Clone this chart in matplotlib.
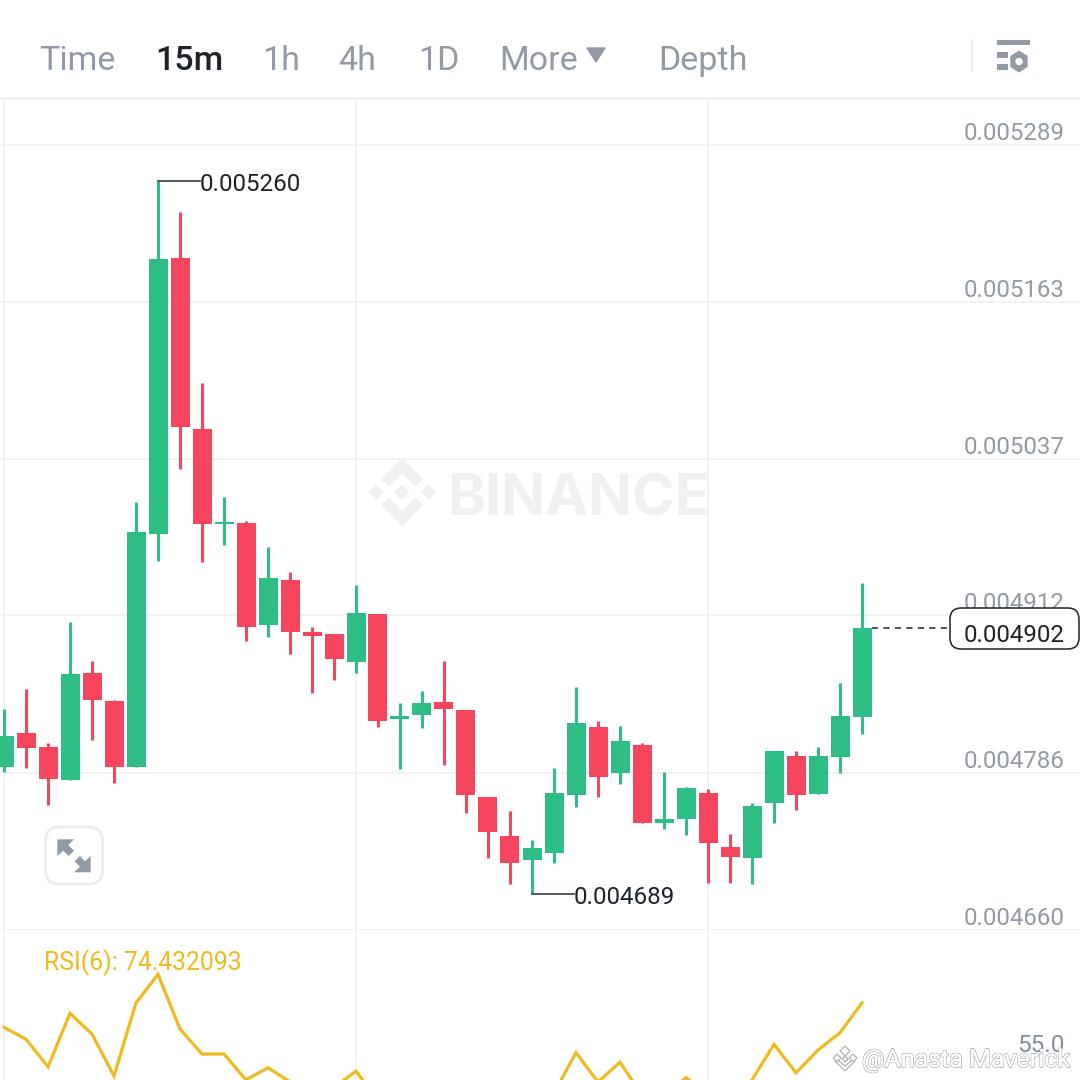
import matplotlib
matplotlib.use("Agg")
import matplotlib.pyplot as plt
from matplotlib.patches import FancyBboxPatch, Polygon, Circle, Rectangle
from matplotlib import patheffects
import numpy as np

plt.rcParams['font.family'] = ['Roboto', 'DejaVu Sans']

GREEN = "#2EBD85"
RED = "#F6465D"
GRID = "#EFF1F3"
GREY = "#929AA5"
DARK = "#1E2329"
YELLOW = "#EDBB1F"

# 15m candles, left to right
opens = [0.0047908, 0.0048179, 0.0048066, 0.0047799, 0.0048657, 0.0048437, 0.0047908, 0.0049771,
         0.0051982, 0.0050612, 0.0049851, 0.0049861, 0.0049041, 0.0049408, 0.0048988, 0.0048969,
         0.0048750, 0.0049130, 0.0048291, 0.0048320, 0.0048427, 0.0048365, 0.0047666, 0.0047356,
         0.0047158, 0.0047219, 0.0047679, 0.0048227, 0.0047860, 0.0048085, 0.0047457, 0.0047489,
         0.0047695, 0.0047265, 0.0047179, 0.0047620, 0.0047997, 0.0047690, 0.0047989, 0.0048309]
closes = [0.0048157, 0.0048061, 0.0047810, 0.0048649, 0.0048440, 0.0047908, 0.0049789, 0.0051974,
          0.0050633, 0.0049853, 0.0049869, 0.0049030, 0.0049418, 0.0048990, 0.0048958, 0.0048769,
          0.0049138, 0.0048277, 0.0048317, 0.0048416, 0.0048371, 0.0047679, 0.0047388, 0.0047137,
          0.0047255, 0.0047695, 0.0048256, 0.0047828, 0.0048114, 0.0047457, 0.0047487, 0.0047735,
          0.0047297, 0.0047187, 0.0047596, 0.0048034, 0.0047679, 0.0047997, 0.0048315, 0.0049017]
highs = [0.0048371, 0.0048531, 0.0048098, 0.0049068, 0.0048755, 0.0048445, 0.0050027, 0.0052602,
         0.0052351, 0.0050981, 0.0050069, 0.0049877, 0.0049666, 0.0049469, 0.0049025, 0.0048969,
         0.0049367, 0.0049130, 0.0048416, 0.0048517, 0.0048758, 0.0048365, 0.0047666, 0.0047556,
         0.0047324, 0.0047896, 0.0048547, 0.0048275, 0.0048237, 0.0048096, 0.0047866, 0.0047746,
         0.0047727, 0.0047367, 0.0047615, 0.0048034, 0.0048034, 0.0048066, 0.0048577, 0.0049378]
lows = [0.0047868, 0.0047900, 0.0047602, 0.0047799, 0.0048120, 0.0047780, 0.0047908, 0.0049559,
        0.0050294, 0.0049551, 0.0049682, 0.0048918, 0.0048950, 0.0048809, 0.0048501, 0.0048601,
        0.0048662, 0.0048229, 0.0047890, 0.0048221, 0.0047920, 0.0047537, 0.0047179, 0.0046969,
        0.0046888, 0.0047139, 0.0047588, 0.0047668, 0.0047770, 0.0047457, 0.0047409, 0.0047359,
        0.0046979, 0.0046979, 0.0046969, 0.0047457, 0.0047559, 0.0047690, 0.0047860, 0.0048170]

rsi = [65.8, 61.6, 51.9, 70.7, 63.4, 48.7, 74.4, 84.4, 65.2, 56.4, 56.4, 47.3, 51.6, 46.6,
       42.0, 44.6, 50.4, 40.2, 36.7, 38.5, 37.4, 31.5, 29.7, 26.2, 29.7, 42.7, 56.9, 46.6,
       53.5, 42.0, 42.0, 48.1, 42.0, 40.2, 47.3, 59.8, 49.8, 57.8, 63.9, 74.4]

price_ticks = [0.005289, 0.005163, 0.005037, 0.004912, 0.004786, 0.004660]
rsi_ticks = [55.0]
time_grid = [0, 16, 32]

tabs = ["Time", "15m", "1h", "4h", "1D", "More", "Depth"]
tab_left = [39.5, 155.5, 262, 338, 418, 499, 658]

high_label = "0.005260"
low_label = "0.004689"
last_label = "0.004902"
rsi_label = "RSI(6): 74.432093"
mark = "@Anasta Maverick"

fig = plt.figure(figsize=(10.8, 10.8), dpi=100, facecolor="white")
ax = fig.add_axes([0, 150 / 1080, 1, 830 / 1080])
ax_rsi = fig.add_axes([0, 0, 1, 150 / 1080])
over = fig.add_axes([0, 0, 1, 1], zorder=5)
over.set_xlim(0, 1080)
over.set_ylim(1080, 0)
over.axis("off")
over.patch.set_alpha(0)

xs = np.arange(len(opens))
xlim = (-4 / 22, 1076 / 22)

for a in (ax, ax_rsi):
    a.set_xlim(*xlim)
    a.set_xticks(time_grid)
    a.tick_params(axis="x", length=0, labelbottom=False)
    a.grid(True, axis="x", color=GRID, lw=1.3)
    a.set_axisbelow(True)
    for s in a.spines.values():
        s.set_visible(False)

# price panel
ax.set_ylim(0.004660, 0.00532505)
ax.set_yticks(price_ticks)
ax.set_yticklabels([f"{p:.6f}" for p in price_ticks])
ax.yaxis.tick_right()
ax.tick_params(axis="y", length=0, pad=-83.5, labelsize=17.3, labelcolor=GREY)
for t in ax.get_yticklabels():
    t.set_verticalalignment("bottom")
ax.grid(True, axis="y", color=GRID, lw=1.3)

colors = [GREEN if c >= o else RED for o, c in zip(opens, closes)]
ax.vlines(xs, lows, highs, colors=colors, lw=2.2, zorder=2)
ax.bar(xs, np.abs(np.array(closes) - np.array(opens)), bottom=np.minimum(opens, closes),
       width=19 / 22, color=colors, zorder=3)

# watermark sits behind the candles
ax.text(0.4145, 0.5175, "BINANCE", transform=ax.transAxes, color="#EEF0F1", fontsize=41.5,
        family="Inter", weight="bold", va="center", ha="left", zorder=1)
diamonds = [[(186, 55), (250, 118), (226, 140), (186, 100), (147, 140), (124, 118)],
            [(186, 258), (250, 195), (226, 172), (186, 213), (147, 172), (124, 195)],
            [(186, 134), (209, 157), (186, 180), (163, 157)],
            [(108, 134), (131, 157), (108, 180), (85, 157)],
            [(266, 134), (289, 157), (266, 180), (243, 157)]]
for d in diamonds:
    over_pts = [(340 + px / 3, 440 + py / 3) for px, py in d]
    over.add_patch(Polygon(over_pts, closed=True, fc="#EEF0F1", ec="none", zorder=0.5))

# high / low callouts
hi = int(np.argmax(highs))
lo = int(np.argmin(lows))
ax.plot([hi, hi + 1.9], [highs[hi], highs[hi]], color="#474D57", lw=1.3, zorder=4)
ax.plot([lo, lo + 1.9], [lows[lo], lows[lo]], color="#474D57", lw=1.3, zorder=4)
ax.annotate(high_label, (hi + 1.88, highs[hi]), color=DARK, fontsize=17.4, va="center", zorder=4,
            xytext=(0, -2.5), textcoords="offset points")
ax.annotate(low_label, (lo + 1.88, lows[lo]), color=DARK, fontsize=17.4, va="center", zorder=4,
            xytext=(0, -2.2), textcoords="offset points")

# last price
ax.plot([xs[-1] + 0.45, 948 / 22 - 4 / 22], [closes[-1], closes[-1]], color=DARK, lw=1.1,
        dashes=(4, 3.5), zorder=4)
over.add_patch(FancyBboxPatch((950, 608), 129, 41, boxstyle="round,pad=0,rounding_size=11",
                              fc="white", ec=DARK, lw=1.1, zorder=3))
over.text(964, 635, last_label, color=DARK, fontsize=17.3, va="center", ha="left", zorder=4)

# rsi panel
ax_rsi.set_ylim(55 - 22 / 2.846, 100)
ax_rsi.plot(xs, rsi, color=YELLOW, lw=2.3, solid_joinstyle="miter", zorder=3)
ax_rsi.set_yticks(rsi_ticks)
ax_rsi.yaxis.tick_right()
ax_rsi.tick_params(axis="y", length=0, labelright=False)
for v in rsi_ticks:
    ax_rsi.annotate(f"{v:.1f}", (1, v), xycoords=ax_rsi.get_yaxis_transform(), color="#848E9C",
                    fontsize=17.6, ha="right", va="baseline", xytext=(-11, 4), textcoords="offset points")
over.text(44, 963, rsi_label, color=YELLOW, fontsize=17.8, va="center", ha="left")

# header tabs
over.add_patch(Rectangle((0, 97), 1080, 3, fc=GRID, ec="none"))
for name, left in zip(tabs, tab_left):
    active = name == "15m"
    over.text(left, 70, name, color=DARK if active else GREY, fontsize=24.5,
              weight="medium" if active else "normal", va="baseline", ha="left")
over.add_patch(Polygon([(587, 48), (605, 48), (596, 62)], closed=True, fc=GREY, ec=GREY, lw=1, joinstyle="round"))
over.add_patch(Rectangle((971, 39), 2, 33, fc="#EAECEF", ec="none"))
over.add_patch(Rectangle((996.5, 39.5), 33, 5.5, fc=GREY, ec="none"))
over.add_patch(Rectangle((996.5, 51.5), 11, 6, fc=GREY, ec="none"))
over.add_patch(Rectangle((996.5, 63.5), 11, 6, fc=GREY, ec="none"))
hexa = [(1019 + 10 * np.sin(a), 61.5 + 11 * np.cos(a)) for a in np.linspace(0, 2 * np.pi, 7)[:-1]]
over.add_patch(Polygon(hexa, closed=True, fc=GREY, ec="none"))
over.add_patch(Circle((1019, 61.5), 3.7, fc="white", ec="none"))

# expand button
over.add_patch(FancyBboxPatch((45.5, 827), 57, 57, boxstyle="round,pad=0,rounding_size=14",
                              fc="white", ec="#EAECEF", lw=2))
arrow_a = [(172, 178), (222, 178), (205, 195), (222, 212), (206, 228), (190, 212), (172, 228)]
arrow_b = [(272, 277), (222, 277), (240, 260), (224, 244), (240, 228), (255, 244), (272, 228)]
for arrow in (arrow_a, arrow_b):
    over.add_patch(Polygon([(px / 3, 780 + py / 3) for px, py in arrow], closed=True, fc=GREY, ec="none"))

# author watermark
over.text(862, 1060, mark, color="white", fontsize=18, va="center", ha="left", zorder=6,
          path_effects=[patheffects.withStroke(linewidth=1.1, foreground="#A6ABB3"),
                        patheffects.Normal()])
for cx, cy, r in [(845, 1051, 5), (837, 1058, 4), (853, 1058, 4), (845, 1059, 3)]:
    over.add_patch(Polygon([(cx, cy - r), (cx + r, cy), (cx, cy + r), (cx - r, cy)], closed=True,
                           fc="white", ec="#A6ABB3", lw=0.8, zorder=6))
over.add_patch(Polygon([(835, 1061), (845, 1071), (855, 1061), (851, 1061), (845, 1066), (839, 1061)],
                       closed=True, fc="white", ec="#A6ABB3", lw=0.8, zorder=6))

fig.savefig("out.png", dpi=100, facecolor="white")
